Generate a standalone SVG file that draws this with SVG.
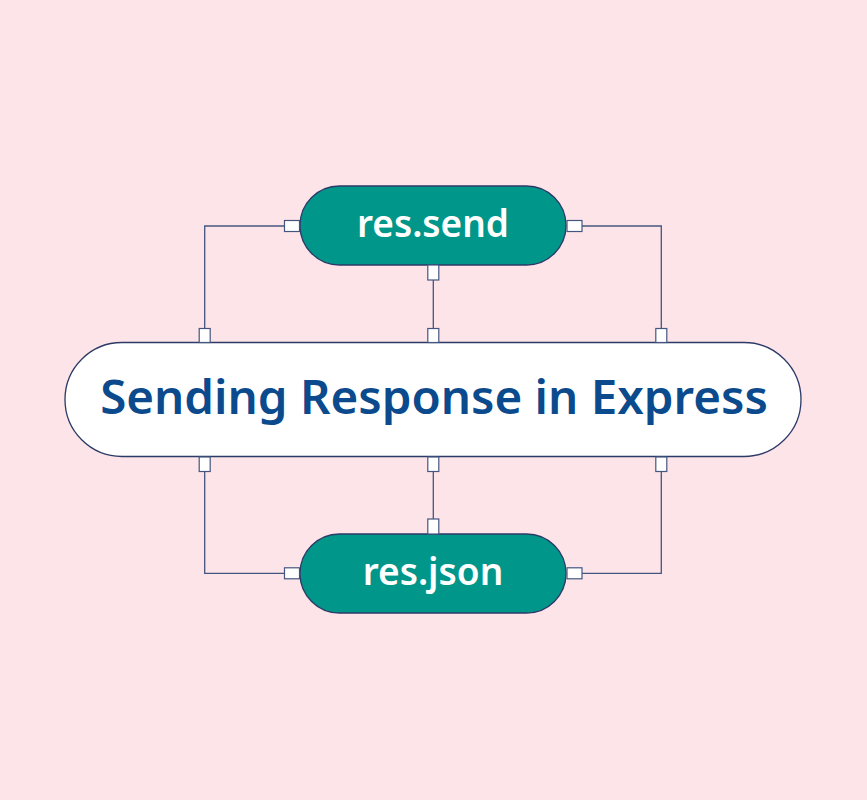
<svg xmlns="http://www.w3.org/2000/svg" width="867" height="800" viewBox="0 0 867 800">
<style>
.bg{fill:#fde4e8}
.pill{fill:#00968a;stroke:#2b3a67;stroke-width:1.3}
.main{fill:#ffffff;stroke:#2b3a67;stroke-width:1.3}
.port{fill:#ffffff;stroke:#44557f;stroke-width:1.2}
.wire{fill:none;stroke:#44557f;stroke-width:1.3}
.t1{font-family:"Noto Sans","Open Sans",sans-serif;font-weight:600;fill:#ffffff;text-anchor:middle}
.t2{font-family:"Noto Sans","Open Sans",sans-serif;font-weight:600;fill:#0b4a8c;text-anchor:middle}
</style>
<rect class="bg" x="0" y="0" width="867" height="800"/>
<g id="connectors">
<path class="wire" d="M284.5,226 H204.7 V328.5"/>
<path class="wire" d="M433.3,280 V328.5"/>
<path class="wire" d="M582,226 H661.3 V328.5"/>
<path class="wire" d="M204.7,471.5 V573.3 H284.5"/>
<path class="wire" d="M433.3,471.5 V519"/>
<path class="wire" d="M661.3,471.5 V573.3 H582"/>
</g>
<g id="main">
<rect class="main" x="65" y="342.5" width="736" height="114" rx="57"/>
<text class="t2" x="434" y="414" font-size="47.5">Sending Response in Express</text>
</g>
<g id="res-send">
<rect class="pill" x="300" y="186" width="266" height="79" rx="39.5"/>
<text class="t1" x="433" y="237" font-size="37">res.send</text>
</g>
<g id="res-json">
<rect class="pill" x="300" y="534" width="266" height="79" rx="39.5"/>
<text class="t1" x="433" y="585" font-size="37">res.json</text>
</g>
<g id="ports">
<rect class="port" x="284.5" y="220.5" width="15" height="11"/>
<rect class="port" x="567" y="220.5" width="15" height="11"/>
<rect class="port" x="427.8" y="265" width="11" height="15"/>
<rect class="port" x="199.2" y="328.5" width="11" height="14"/>
<rect class="port" x="427.8" y="328.5" width="11" height="14"/>
<rect class="port" x="655.8" y="328.5" width="11" height="14"/>
<rect class="port" x="199.2" y="457" width="11" height="14.5"/>
<rect class="port" x="427.8" y="457" width="11" height="14.5"/>
<rect class="port" x="655.8" y="457" width="11" height="14.5"/>
<rect class="port" x="427.8" y="519" width="11" height="15"/>
<rect class="port" x="284.5" y="567.8" width="15" height="11"/>
<rect class="port" x="567" y="567.8" width="15" height="11"/>
</g>
</svg>
